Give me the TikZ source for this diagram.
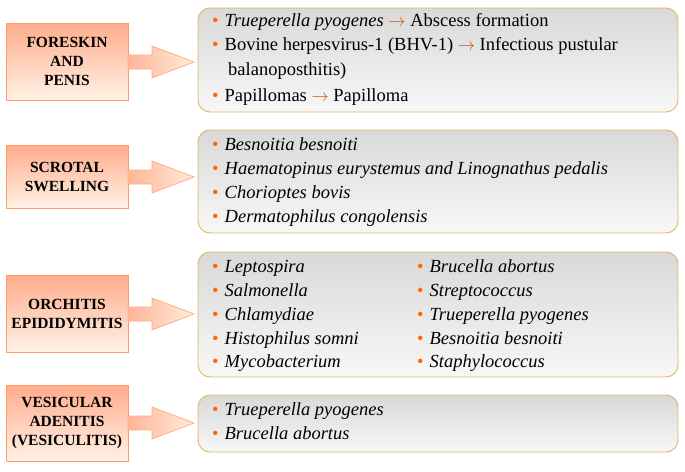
\documentclass[tikz,border=0pt]{standalone}
\usepackage{fontspec}
\setmainfont{Liberation Serif}
\begin{document}
\begin{tikzpicture}[x=1pt,y=-1pt,
  lbox/.style={draw=orange!70!red!60,line width=0.8pt,top color=orange!55!red!45,bottom color=orange!10,
    minimum width=122pt,align=center,font=\bfseries\fontsize{15.5}{19}\selectfont,inner sep=0pt},
  rbox/.style={draw=orange!70!yellow!80!black!60,line width=0.9pt,rounded corners=12pt,top color=black!15,bottom color=black!3,
    minimum width=480pt,inner sep=0pt},
  it/.style={anchor=west,font=\fontsize{18.5}{21}\selectfont,inner sep=0pt,text height=13pt,text depth=4pt},
  arr/.style={draw=orange!70!red!50,line width=0.7pt,left color=orange!55!red!40,right color=orange!15}]
\newcommand{\bl}{\textcolor{orange!80!red}{\textbullet}\hspace{6pt}}
\newcommand{\ra}{\textcolor{orange!80!red!80!black}{$\rightarrow$}}
\useasboundingbox (0,0) rectangle (685,471);
% left boxes
\node[lbox,minimum height=77pt] (l1) at (67,61.5) {FORESKIN\\AND\\PENIS};
\node[lbox,minimum height=63pt] (l2) at (67,176.5) {SCROTAL\\SWELLING};
\node[lbox,minimum height=77pt] (l3) at (67,313.5) {ORCHITIS\\EPIDIDYMITIS};
\node[lbox,minimum height=76pt] (l4) at (67,423) {VESICULAR\\ADENITIS\\(VESICULITIS)};
% right boxes
\node[rbox,minimum height=104pt] (r1) at (438,60) {};
\node[rbox,minimum height=103pt] (r2) at (438,181.5) {};
\node[rbox,minimum height=125pt] (r3) at (438,314.5) {};
\node[rbox,minimum height=57pt] (r4) at (438,423.5) {};
% arrows
\foreach \n/\y in {1/62,2/177,3/314,4/423}{
  \path[arr] (128,\y-7) -- (152,\y-7) -- (152,\y-16) -- (194,\y) -- (152,\y+16) -- (152,\y+7) -- (128,\y+7) -- cycle;
}
% box 1
\node[it] (t11) at (212,22) {\bl\textit{Trueperella pyogenes} \ra\ Abscess formation};
\node[it] (t12) at (212,46) {\bl Bovine herpesvirus-1 (BHV-1) \ra\ Infectious pustular};
\node[it] (t13) at (228,71) {balanoposthitis)};
\node[it] (t14) at (212,97) {\bl Papillomas \ra\ Papilloma};
% box 2
\node[it] (t21) at (212,146) {\bl\textit{Besnoitia besnoiti}};
\node[it] (t22) at (212,170) {\bl\textit{Haematopinus eurystemus and Linognathus pedalis}};
\node[it] (t23) at (212,194) {\bl\textit{Chorioptes bovis}};
\node[it] (t24) at (212,218) {\bl\textit{Dermatophilus congolensis}};
% box 3
\node[it] (t31) at (212,268) {\bl\textit{Leptospira}};
\node[it] (t32) at (212,292) {\bl\textit{Salmonella}};
\node[it] (t33) at (212,316) {\bl\textit{Chlamydiae}};
\node[it] (t34) at (212,340) {\bl\textit{Histophilus somni}};
\node[it] (t35) at (212,363) {\bl\textit{Mycobacterium}};
\node[it] (t36) at (417,268) {\bl\textit{Brucella abortus}};
\node[it] (t37) at (417,292) {\bl\textit{Streptococcus}};
\node[it] (t38) at (417,316) {\bl\textit{Trueperella pyogenes}};
\node[it] (t39) at (417,340) {\bl\textit{Besnoitia besnoiti}};
\node[it] (t310) at (417,363) {\bl\textit{Staphylococcus}};
% box 4
\node[it] (t41) at (212,411) {\bl\textit{Trueperella pyogenes}};
\node[it] (t42) at (212,435) {\bl\textit{Brucella abortus}};
\end{tikzpicture}
\end{document}
